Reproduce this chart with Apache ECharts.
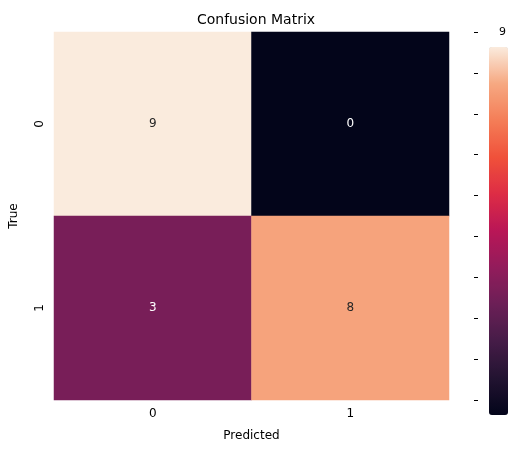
<!DOCTYPE html>
<html>
<head>
<meta charset="utf-8">
<script src="https://cdn.jsdelivr.net/npm/echarts@6/dist/echarts.min.js"></script>
<style>html,body{margin:0;padding:0;background:#fff}#main{width:521px;height:455px}</style>
</head>
<body>
<div id="main"></div>
<script>
var xLabels = ['0', '1'];
var yLabels = ['0', '1'];
var cells = [[0, 0, 9], [1, 0, 0], [0, 1, 3], [1, 1, 8]]; // [predicted, true, count]
var barTicks = [0, 1, 2, 3, 4, 5, 6, 7, 8, 9];
var rocket = ['#03051a', '#221331', '#451c47', '#6b1f56', '#921c5b', '#b91657',
              '#dd2c45', '#f0513a', '#f47d57', '#f6a881', '#faebdd'];

var chart = echarts.init(document.getElementById('main'));
var font = 'DejaVu Sans';
var data = cells.map(function (c) {
    return {value: c, label: {color: c[2] > 5 ? '#262626' : '#ffffff'}};
});
var option = {
    animation: false,
    textStyle: {fontFamily: font},
    title: {text: 'Confusion Matrix', left: 251, top: 8, textAlign: 'center',
        textStyle: {fontSize: 14, fontWeight: 'normal', color: '#000', fontFamily: font}},
    grid: [
        {left: 54, right: 72, top: 32, bottom: 55},
        {left: 474, width: 19, top: 32, height: 368}
    ],
    xAxis: [
        {type: 'category', data: xLabels, gridIndex: 0, name: 'Predicted', nameLocation: 'middle', nameGap: 30,
         nameTextStyle: {fontSize: 12, color: '#000'},
         axisLine: {show: false}, axisTick: {length: 4, alignWithLabel: true, lineStyle: {color: '#000'}},
         axisLabel: {color: '#000', fontSize: 12}, splitLine: {show: false}},
        {type: 'value', gridIndex: 1, show: false, min: 0, max: 1}
    ],
    yAxis: [
        {type: 'category', data: yLabels, inverse: true, gridIndex: 0, name: 'True', nameLocation: 'middle', nameGap: 34,
         nameTextStyle: {fontSize: 12, color: '#000'},
         axisLine: {show: false}, axisTick: {length: 4, alignWithLabel: true, lineStyle: {color: '#000'}},
         axisLabel: {color: '#000', fontSize: 12, rotate: 90}, splitLine: {show: false}},
        {type: 'value', gridIndex: 1, position: 'right', min: 0, max: 9, interval: 1,
         axisLine: {show: false}, axisTick: {show: true, length: 4, lineStyle: {color: '#000'}},
         axisLabel: {color: '#000', fontSize: 11, margin: 6}, splitLine: {show: false}}
    ],
    visualMap: {
        type: 'continuous', min: 0, max: 9, calculable: false, seriesIndex: 0,
        left: 474, top: 32, itemWidth: 19, itemHeight: 368, text: ['', ''], showLabel: false,
        inRange: {color: rocket}
    },
    series: [
        {type: 'heatmap', xAxisIndex: 0, yAxisIndex: 0, data: data,
         label: {show: true, fontSize: 12, formatter: function (p) { return p.value[2]; }}},
        {type: 'line', xAxisIndex: 1, yAxisIndex: 1, data: [], silent: true}
    ]
};
chart.setOption(option);
</script>
</body>
</html>
